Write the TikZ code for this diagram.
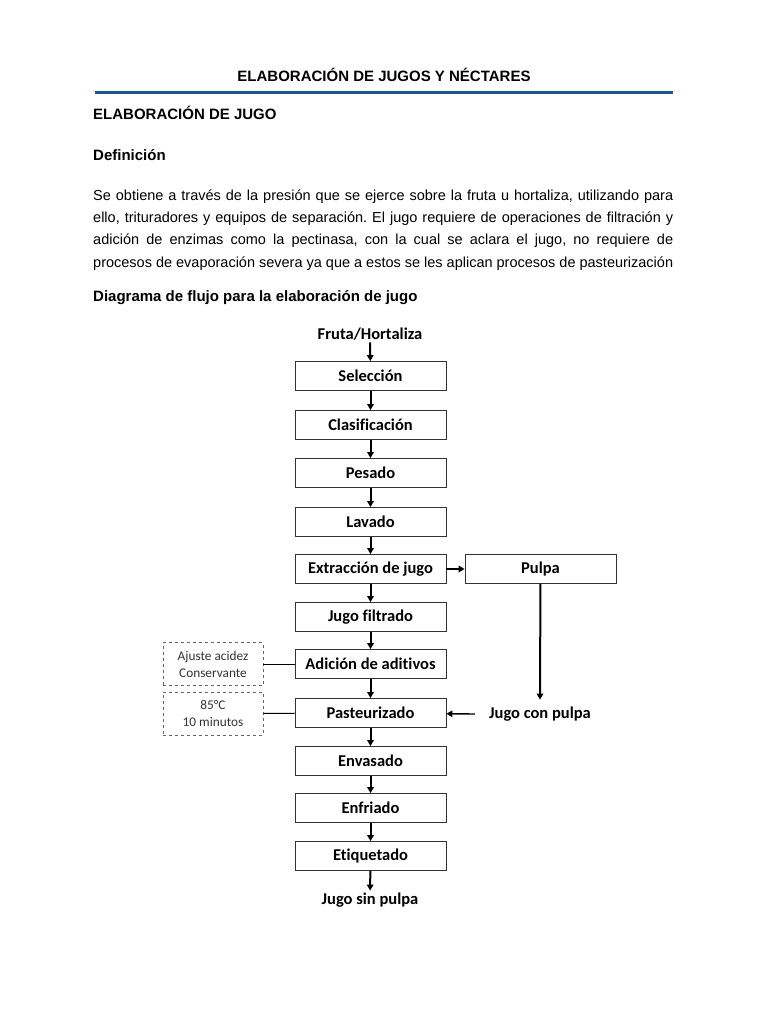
\documentclass[tikz,border=0pt]{standalone}
\usepackage{fontspec}
\setmainfont{Liberation Sans}
\newfontfamily\calib[Ligatures=NoCommon]{Carlito}
\usetikzlibrary{arrows.meta}
\frenchspacing
\begin{document}
\begin{tikzpicture}[x=1pt,y=-1pt,
  stepbox/.style={draw=black!80,line width=0.8pt,minimum width=151pt,minimum height=29pt,inner sep=0pt,font=\calib\bfseries\fontsize{16.5}{18}\selectfont},
  notebox/.style={draw=black!60,dashed,line width=0.6pt,minimum width=100pt,minimum height=43pt,inner sep=0pt,align=center,font=\calib\fontsize{13.3}{17}\selectfont,text=black!80},
  lbl/.style={inner sep=2pt,font=\calib\bfseries\fontsize{16.5}{18}\selectfont},
  arr/.style={-{Triangle[length=6pt,width=6.5pt]},line width=2pt},
  harr/.style={-{Triangle[length=6pt,width=6.5pt]},line width=1.4pt},
  ln/.style={line width=1pt},
  hd/.style={inner sep=0pt,font=\bfseries\fontsize{15}{17}\selectfont}]
\useasboundingbox (0,0) rectangle (768,1024);
\fill[white] (0,0) rectangle (768,1024);
% header
\node[hd] (title) at (384,75) {ELABORACIÓN DE JUGOS Y NÉCTARES};
\draw[line width=3pt,color={rgb,255:red,31;green,86;blue,145}] (95,93) -- (673,93);
\node[hd,anchor=west] (sub) at (93,113) {ELABORACIÓN DE JUGO};
\node[hd,anchor=west] (def) at (93,155) {Definición};
\node[anchor=north west,inner sep=0pt,text width=580pt,align=justify,font=\fontsize{14.5}{22.3}\selectfont] (para) at (93,189.5)
 {Se obtiene a través de la presión que se ejerce sobre la fruta u hortaliza, utilizando para\linebreak
 ello, trituradores y equipos de separación. El jugo requiere de operaciones de filtración y\linebreak
 adición de enzimas como la pectinasa, con la cual se aclara el jugo, no requiere de\linebreak
 procesos de evaporación severa ya que a estos se les aplican procesos de pasteurización};
\node[hd,anchor=west] (diag) at (93,298) {Diagrama de flujo para la elaboración de jugo};
% flowchart
\node[lbl] (in) at (370,334) {Fruta/Hortaliza};
\node[stepbox] (s1) at (370.5,376) {Selección};
\node[stepbox] (s2) at (370.5,425) {Clasificación};
\node[stepbox] (s3) at (370.5,473) {Pesado};
\node[stepbox] (s4) at (370.5,522) {Lavado};
\node[stepbox] (s5) at (370.5,569) {Extracción de jugo};
\node[stepbox] (s6) at (370.5,617) {Jugo filtrado};
\node[stepbox] (s7) at (370.5,664) {Adición de aditivos};
\node[stepbox] (s8) at (370.5,713) {Pasteurizado};
\node[stepbox] (s9) at (370.5,761) {Envasado};
\node[stepbox] (s10) at (370.5,808) {Enfriado};
\node[stepbox] (s11) at (370.5,856) {Etiquetado};
\node[lbl] (out) at (370,900) {Jugo sin pulpa};
\node[stepbox] (pulpa) at (540.5,569) {Pulpa};
\node[lbl] (jcp) at (540,714) {Jugo con pulpa};
\node[notebox] (n1) at (213,664) {Ajuste acidez\\Conservante};
\node[notebox] (n2) at (213,713.5) {85°C\\10 minutos};
\draw[arr] (in) -- (s1);
\draw[arr] (s1) -- (s2);
\draw[arr] (s2) -- (s3);
\draw[arr] (s3) -- (s4);
\draw[arr] (s4) -- (s5);
\draw[arr] (s5) -- (s6);
\draw[arr] (s6) -- (s7);
\draw[arr] (s7) -- (s8);
\draw[arr] (s8) -- (s9);
\draw[arr] (s9) -- (s10);
\draw[arr] (s10) -- (s11);
\draw[arr] (s11) -- (out);
\draw[arr] (s5) -- (pulpa);
\draw[arr] (pulpa) -- ([yshift=5pt]jcp.north);
\draw[harr] ([xshift=-12pt]jcp.west) -- (s8);
\draw[ln] (n1) -- (s7);
\draw[ln] (n2) -- (s8);
\end{tikzpicture}
\end{document}
